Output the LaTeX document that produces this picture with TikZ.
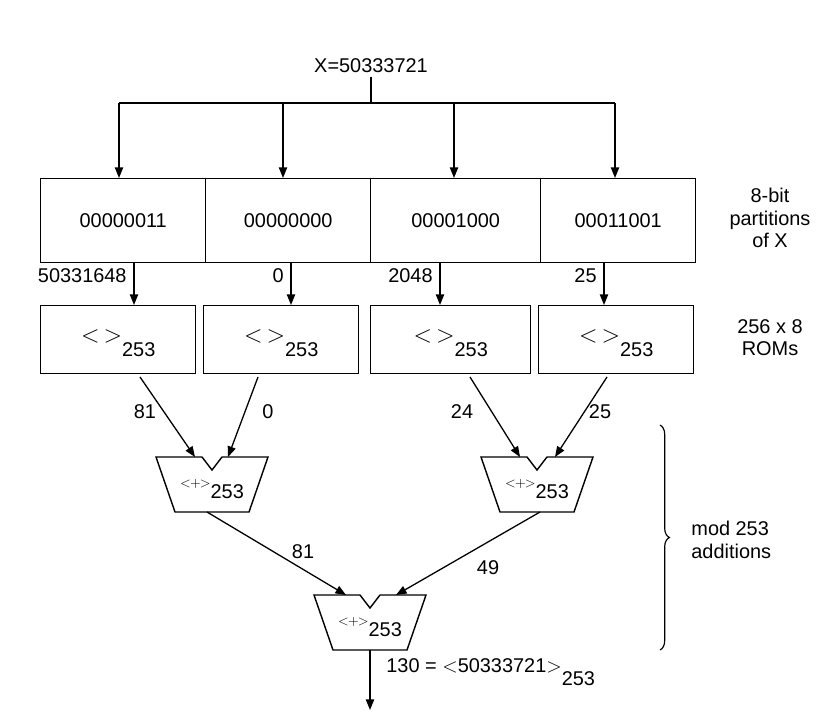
\documentclass[tikz,border=0pt]{standalone}
\usepackage{fontspec}
\setmainfont{Liberation Sans}
\usetikzlibrary{decorations.pathreplacing,arrows.meta}
\begin{document}
\begin{tikzpicture}[x=0.03cm,y=-0.03cm,
  every node/.style={font=\fontsize{17}{19}\selectfont},
  box/.style={draw,line width=1.2pt,minimum height=2.52cm,anchor=north west,inner sep=0},
  rom/.style={draw,line width=1.2pt,minimum height=2.04cm,anchor=north west,inner sep=0},
  ar/.style={line width=1.1pt,-{Triangle[length=9pt,width=7pt]}},
  ln/.style={line width=1.1pt},
  lab/.style={inner sep=1pt}]
\useasboundingbox (0,0) rectangle (840,719);
\node (x) at (371,66) {X=50333721};
\coordinate (j) at (371,103);
\coordinate (l) at (119,103);
\coordinate (r) at (615,103);
\draw[ln] (x.south) -- (j);
\draw[ln] (l) -- (r);
% top boxes
\node[box,minimum width=4.95cm] (b1) at (40,178) {00000011};
\node[box,minimum width=4.95cm] (b2) at (205,178) {00000000};
\node[box,minimum width=5.1cm] (b3) at (370,178) {00001000};
\node[box,minimum width=4.65cm] (b4) at (540,178) {00011001};
\foreach \xx/\b in {119/b1,283/b2,454/b3,615/b4}
  \draw[ar] (\xx,103) -- (\xx,178);
\node[align=center,lab] (t1) at (770,218) {8-bit\\partitions\\of X};
% ROMs
\node[rom,minimum width=4.65cm] (r1) at (40,305) {};
\node[rom,minimum width=4.65cm] (r2) at (203,305) {};
\node[rom,minimum width=4.8cm] (r3) at (370,305) {};
\node[rom,minimum width=4.65cm] (r4) at (538,305) {};
\foreach \r in {r1,r2,r3,r4}
  \node at ([yshift=-0.1cm]\r.center) {\fontsize{22}{24}\selectfont$<\,>$\raisebox{-1.0ex}{\fontsize{17}{19}\selectfont 253}};
\node[align=center,lab] (t2) at (770,338) {256 x 8\\ROMs};
\draw[ar] (134,262) -- (134,305); \node[lab,anchor=east] (l1) at (128,276) {50331648};
\draw[ar] (291,262) -- (291,305); \node[lab,anchor=east] (l2) at (285,276) {0};
\draw[ar] (440,262) -- (440,305); \node[lab,anchor=east] (l3) at (434,276) {2048};
\draw[ar] (604,262) -- (604,305); \node[lab,anchor=east] (l4) at (598,276) {25};
% adders
\newcommand{\adder}[3]{%
  \draw[line width=1.2pt] (#1-56,#2) -- (#1-10,#2) -- (#1,#2+13) -- (#1+10,#2) -- (#1+56,#2)
    -- (#1+37,#2+55) -- (#1-37,#2+55) -- cycle;
  \node[inner sep=0] (#3) at (#1,#2+32) {\fontsize{12}{13}\selectfont$<\!\!+\!\!>$\raisebox{-1.4ex}{\fontsize{17}{19}\selectfont 253}};}
\adder{212}{457}{a1}
\adder{537}{457}{a2}
\adder{370}{595}{a3}
\draw[ar] (140,377) -- (195,457); \node[lab] (m1) at (145,412) {81};
\draw[ar] (258,377) -- (228,457); \node[lab] (m2) at (268,412) {0};
\draw[ar] (470,377) -- (520,457); \node[lab] (m3) at (462,412) {24};
\draw[ar] (607,377) -- (555,457); \node[lab] (m4) at (600,412) {25};
\draw[ar] (207,512) -- (346,595); \node[lab] (m5) at (303,552) {81};
\draw[ar] (540,512) -- (396,595); \node[lab] (m6) at (488,568) {49};
\coordinate (o1) at (370,650);
\coordinate (o2) at (370,710);
\draw[ar] (o1) -- (o2);
\node[lab,anchor=west] (res) at (385,672) {130 = $<$50333721$>$\raisebox{-1.2ex}{253}};
\draw[line width=1pt,decorate,decoration={brace,amplitude=8pt}] (660,425) -- (660,650);
\node[align=left,lab,anchor=west] (t3) at (690,540) {mod 253\\additions};
\end{tikzpicture}
\end{document}
